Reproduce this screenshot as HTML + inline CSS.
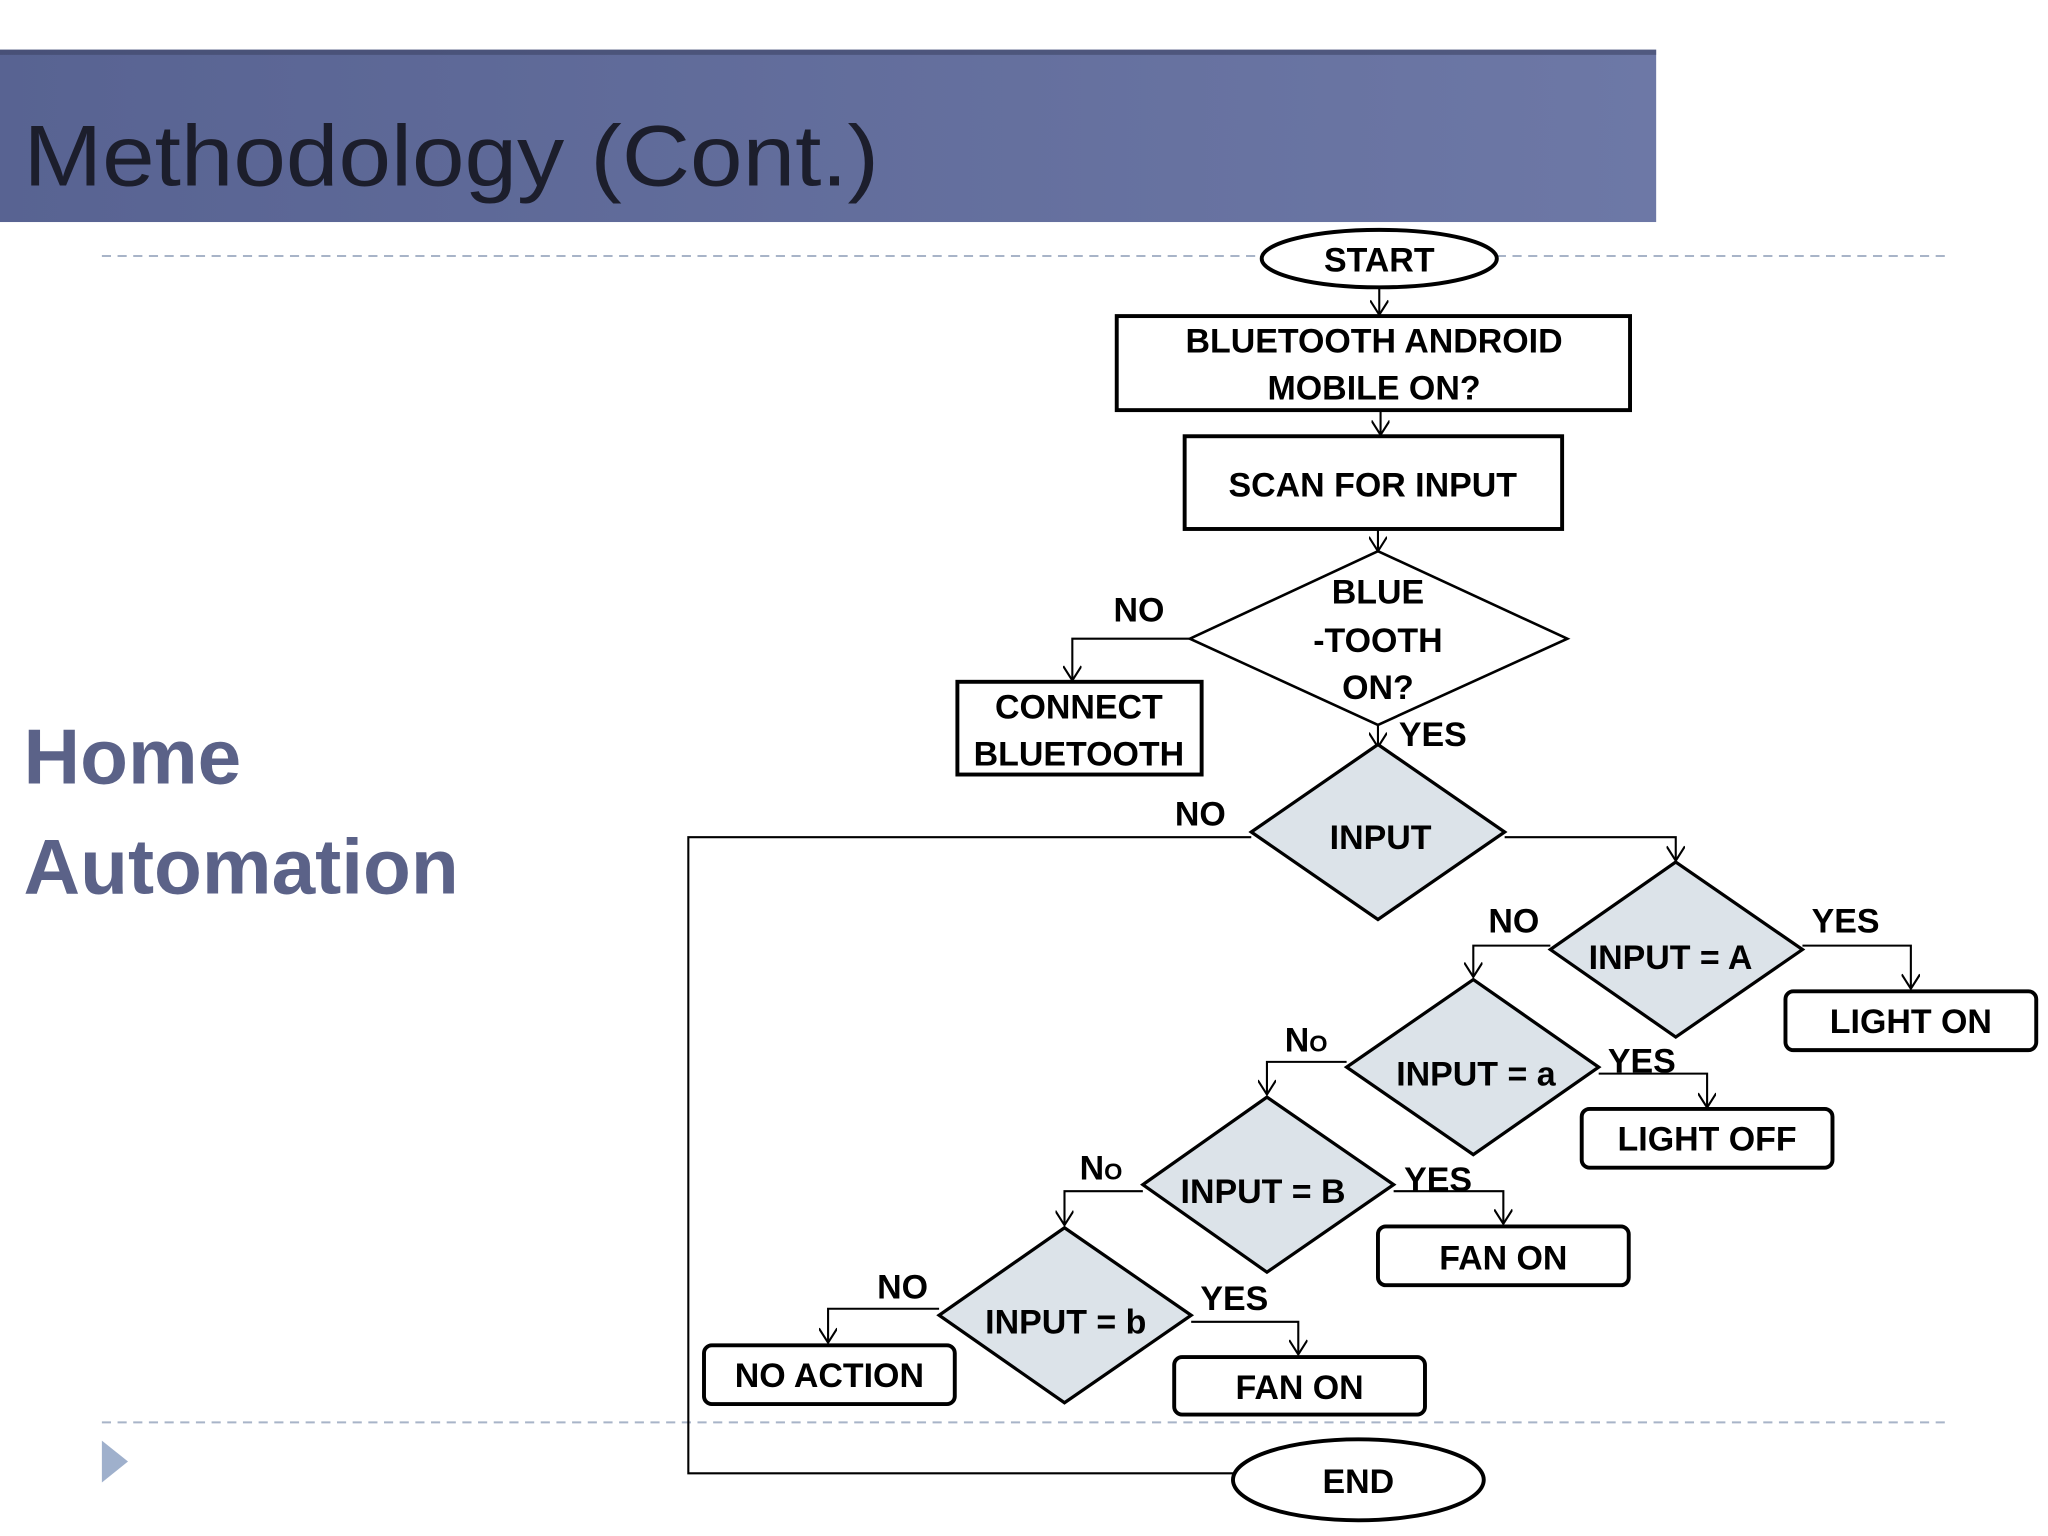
<!DOCTYPE html>
<html><head><meta charset="utf-8"><style>
html,body{margin:0;padding:0;background:#fff;}
svg{display:block;}
text{font-family:"Liberation Sans",sans-serif;}
.t{font-size:26px;font-weight:bold;fill:#000;text-anchor:middle;}
</style></head><body>
<svg width="2048" height="1536" viewBox="0 0 1568 1176" preserveAspectRatio="none" xmlns="http://www.w3.org/2000/svg">
<defs>
<linearGradient id="g" x1="0" y1="0" x2="1" y2="0">
<stop offset="0" stop-color="#586392"/><stop offset="1" stop-color="#6d78a6"/>
</linearGradient>
<marker id="a" markerWidth="14" markerHeight="14" refX="13" refY="7" orient="auto" markerUnits="userSpaceOnUse" viewBox="0 0 14 14">
<path d="M2,0 L13,7 L2,14" fill="none" stroke="#000" stroke-width="1.6"/>
</marker>
</defs>
<rect x="0" y="38" width="1268" height="132" fill="url(#g)"/>
<rect x="0" y="38" width="1268" height="4" fill="#3d4466" opacity="0.6"/>
<text x="18" y="142" font-size="66" fill="#1c1e2c" textLength="655" lengthAdjust="spacingAndGlyphs">Methodology (Cont.)</text>
<line x1="78" y1="196" x2="1490" y2="196" stroke="#a8b4c8" stroke-width="1.5" stroke-dasharray="7,5"/>
<line x1="78" y1="1089" x2="1490" y2="1089" stroke="#a8b4c8" stroke-width="1.5" stroke-dasharray="7,5"/>
<text x="18" y="600" font-size="60" font-weight="bold" fill="#5b6288">Home</text>
<text x="18" y="684" font-size="60" font-weight="bold" fill="#5b6288">Automation</text>
<polygon points="78,1103 98,1119 78,1135" fill="#9fb0cc"/>

<g stroke="#000" stroke-width="1.6" fill="none">
<line x1="1056" y1="220" x2="1056" y2="241" marker-end="url(#a)"/>
<line x1="1057" y1="314" x2="1057" y2="333" marker-end="url(#a)"/>
<line x1="1055" y1="405" x2="1055" y2="422" marker-end="url(#a)"/>
<polyline points="911,489 821,489 821,521" marker-end="url(#a)"/>
<line x1="1055" y1="555" x2="1055" y2="572" marker-end="url(#a)"/>
<polyline points="958,641 527,641 527,1128 945,1128"/>
<polyline points="1152,641 1283,641 1283,659" marker-end="url(#a)"/>
<polyline points="1187,724 1128,724 1128,748" marker-end="url(#a)"/>
<polyline points="1380,724 1463,724 1463,757" marker-end="url(#a)"/>
<polyline points="1031,813 970,813 970,838" marker-end="url(#a)"/>
<polyline points="1224,822 1307,822 1307,848" marker-end="url(#a)"/>
<polyline points="875,912 815,912 815,938" marker-end="url(#a)"/>
<polyline points="1067,912 1151,912 1151,937" marker-end="url(#a)"/>
<polyline points="719,1002 634,1002 634,1028" marker-end="url(#a)"/>
<polyline points="912,1012 994,1012 994,1037" marker-end="url(#a)"/>
</g>

<g stroke="#000" stroke-width="3" fill="#fff">
<ellipse cx="1056" cy="198" rx="90" ry="22"/>
<rect x="855" y="242" width="393" height="72"/>
<rect x="907" y="334" width="289" height="71"/>
<polygon points="1055,422 1200,489 1055,555 911,489" stroke-width="2"/>
<rect x="733" y="522" width="187" height="71"/>
<rect x="1367" y="759" width="192" height="45" rx="6"/>
<rect x="1211" y="849" width="192" height="45" rx="6"/>
<rect x="1055" y="939" width="192" height="45" rx="6"/>
<rect x="539" y="1030" width="192" height="45" rx="6"/>
<rect x="899" y="1039" width="192" height="44" rx="6"/>
<ellipse cx="1040" cy="1133" rx="96" ry="31"/>
</g>
<g stroke="#000" stroke-width="2.5" fill="#dce3e9">
<polygon points="1055,570 1152,637 1055,704 958,637"/>
<polygon points="1283,660 1380,727 1283,794 1187,727"/>
<polygon points="1128,750 1224,817 1128,884 1031,817"/>
<polygon points="970,840 1067,907 970,974 875,907"/>
<polygon points="815,940 912,1007 815,1074 719,1007"/>
</g>

<text class="t" x="1056" y="208">START</text>
<text class="t" x="1052" y="270">BLUETOOTH ANDROID</text>
<text class="t" x="1052" y="306">MOBILE ON?</text>
<text class="t" x="1051" y="380">SCAN FOR INPUT</text>
<text class="t" x="1055" y="462">BLUE</text>
<text class="t" x="1055" y="499">-TOOTH</text>
<text class="t" x="1055" y="535">ON?</text>
<text class="t" x="872" y="476">NO</text>
<text class="t" x="826" y="550">CONNECT</text>
<text class="t" x="826" y="586">BLUETOOTH</text>
<text class="t" x="1097" y="571">YES</text>
<text class="t" x="1057" y="650">INPUT</text>
<text class="t" x="919" y="632">NO</text>
<text class="t" x="1279" y="742">INPUT = A</text>
<text class="t" x="1159" y="714">NO</text>
<text class="t" x="1413" y="714">YES</text>
<text class="t" x="1463" y="791">LIGHT ON</text>
<text class="t" x="1130" y="831">INPUT = a</text>
<text class="t" x="1000" y="805">N<tspan font-size="18">O</tspan></text>
<text class="t" x="1257" y="821">YES</text>
<text class="t" x="1307" y="881">LIGHT OFF</text>
<text class="t" x="967" y="921">INPUT = B</text>
<text class="t" x="843" y="903">N<tspan font-size="18">O</tspan></text>
<text class="t" x="1101" y="912">YES</text>
<text class="t" x="1151" y="972">FAN ON</text>
<text class="t" x="816" y="1021">INPUT = b</text>
<text class="t" x="691" y="994">NO</text>
<text class="t" x="945" y="1003">YES</text>
<text class="t" x="635" y="1062">NO ACTION</text>
<text class="t" x="995" y="1071">FAN ON</text>
<text class="t" x="1040" y="1143">END</text>
</svg>
</body></html>
